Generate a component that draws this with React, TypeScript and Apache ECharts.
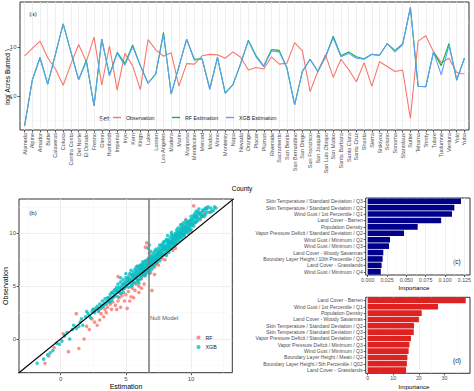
import React, { useEffect, useRef } from "react";
import * as echarts from "echarts";

// ---------- Panel (a): county time-series ----------
const counties = [
  "Alameda", "Alpine", "Amador", "Butte", "Calaveras", "Colusa", "Contra Costa", "Del Norte",
  "El Dorado", "Fresno", "Glenn", "Humboldt", "Imperial", "Inyo", "Kern", "Kings", "Lake",
  "Lassen", "Los Angeles", "Madera", "Marin", "Mariposa", "Mendocino", "Merced", "Modoc",
  "Mono", "Monterey", "Napa", "Nevada", "Orange", "Placer", "Plumas", "Riverside",
  "Sacramento", "San Benito", "San Bernardino", "San Diego", "San Francisco", "San Joaquin",
  "San Luis Obispo", "San Mateo", "Santa Barbara", "Santa Clara", "Santa Cruz", "Shasta",
  "Sierra", "Siskiyou", "Solano", "Sonoma", "Stanislaus", "Sutter", "Tehama", "Trinity",
  "Tulare", "Tuolumne", "Ventura", "Yolo", "Yuba",
];
const observation = [
  8.2, 9.7, 11.2, 7.8, 5.5, 2.2, 6.5, 10.5, 7.0, 12.0, 2.2, 10.2, 1.2, 8.7, 6.2, 1.3, 11.5,
  9.4, 8.1, 8.8, 2.0, 6.6, 6.5, 8.2, 8.5, 8.4, 7.7, 9.0, 7.9, 5.3, 5.8, 5.5, 8.0, 6.5, 6.7,
  10.9, 9.2, 0.9, 5.0, 8.4, 3.8, 7.5, 5.4, 2.9, 6.8, 2.0, 7.0, 6.0, 5.0, 5.3, -4.6, 11.2,
  12.3, 9.0, 6.8, 7.7, 4.8, 4.5,
];
const rfEstimation = [
  -6.1, 3.3, 7.9, 2.4, 8.6, 14.7, 9.0, 3.3, 7.3, -2.0, 11.6, 4.3, 8.9, 6.6, 10.4, 6.2, 2.6,
  4.5, 13.0, 0.4, 6.0, 11.6, 7.5, 7.6, 1.5, 7.9, 0.6, 2.3, 6.6, 11.4, 8.2, 6.1, 9.5, 9.3,
  5.7, -1.8, 5.0, 7.5, 5.0, 8.0, 12.2, 8.2, 9.0, 8.0, 7.6, 8.5, 8.3, 10.7, 9.3, 10.6, 18.1,
  2.0, 1.9, 9.0, 6.2, 10.7, 3.2, 7.7,
];
const xgbEstimation = [
  -6.1, 3.3, 7.7, 2.4, 8.5, 14.7, 9.0, 3.3, 7.1, -2.0, 11.6, 4.1, 8.7, 6.3, 10.1, 6.2, 2.6,
  4.5, 12.6, 0.4, 6.0, 11.6, 7.3, 7.6, 1.3, 7.9, 0.6, 2.3, 6.6, 11.2, 8.0, 6.0, 9.2, 9.0,
  5.7, -1.8, 5.0, 7.5, 5.0, 8.0, 11.9, 8.0, 8.7, 7.7, 7.5, 8.5, 8.3, 10.7, 9.0, 10.5, 18.1,
  2.0, 1.9, 9.0, 4.3, 10.4, 3.4, 7.7,
];
const topYTicks = [0, 10];

// ---------- Panel (b): estimation vs observation ----------
const scatterRF: [number, number][] = [
  [-1.2, -2.3], [-0.9, -1.6], [-0.5, -0.8], [0.2, 0.5], [0.6, -1.2], [1.2, 2.4], [1.4, -0.9],
  [1.8, 0.0], [2.0, 1.2], [2.2, 0.9], [2.4, 1.9], [2.5, 2.8], [2.6, 1.6], [2.8, 1.3], [2.9, 2.7],
  [3.0, 1.8], [3.1, 2.4], [3.2, 3.0], [3.3, 2.1], [3.4, 2.8], [3.5, 2.5], [3.6, 3.0], [3.7, 3.6],
  [3.8, 3.3], [3.9, 2.8], [3.9, 3.9], [4.0, 3.5], [4.1, 4.0], [4.2, 3.2], [4.3, 2.8], [4.4, 3.6],
  [4.5, 3.9], [4.5, 4.4], [4.4, 5.9], [4.6, 3.0], [4.7, 4.1], [4.8, 4.7], [4.9, 3.6], [5.0, 4.2],
  [5.0, 5.4], [5.1, 2.9], [5.2, 4.5], [5.3, 3.6], [5.3, 5.6], [5.4, 4.0], [5.5, 4.8], [5.5, 5.3],
  [5.6, 3.9], [5.6, 6.1], [5.7, 4.6], [5.8, 5.2], [5.8, 5.9], [5.9, 5.6], [6.0, 5.0], [6.0, 4.4],
  [6.0, 6.6], [6.1, 6.4], [6.2, 5.7], [6.2, 4.8], [6.2, 6.0], [6.3, 7.1], [6.3, 6.4], [6.4, 6.0],
  [6.4, 5.2], [6.5, 8.7], [6.5, 6.2], [6.6, 9.1], [6.6, 6.5], [6.7, 7.4], [6.7, 6.8], [6.8, 8.1],
  [6.9, 6.3], [6.9, 7.2], [7.0, 4.6], [7.0, 7.6], [7.1, 7.5], [7.2, 6.8], [7.2, 6.1], [7.3, 7.9],
  [7.3, 7.2], [7.4, 7.1], [7.5, 7.0], [7.5, 8.1], [7.6, 8.4], [7.7, 8.0], [7.8, 7.6], [7.9, 8.5],
  [8.0, 8.6], [8.0, 7.5], [8.1, 8.0], [8.1, 8.7], [8.3, 9.1], [8.3, 8.6], [8.5, 9.1], [8.5, 9.4],
  [8.6, 8.4], [8.7, 9.2], [8.8, 9.5], [8.8, 8.6], [8.9, 9.8], [9.0, 9.2], [9.1, 10.0], [9.1, 9.6],
  [9.3, 10.4], [9.3, 10.0], [9.5, 9.9], [9.5, 10.6], [9.6, 11.3], [9.7, 10.3], [9.8, 10.6],
  [9.9, 11.0], [10.0, 10.2], [10.1, 10.8], [10.2, 12.6], [10.3, 11.0], [10.4, 11.5], [10.5, 11.7],
  [10.6, 12.0], [10.7, 11.3], [10.8, 11.6], [11.0, 11.9], [11.2, 12.4], [11.5, 12.0],
];
const scatterXGB: [number, number][] = [
  [-1.8, -2.3], [-1.3, -1.9], [-1.0, -1.5], [-0.8, -1.3], [-0.6, -1.1], [-0.3, -0.4], [-0.1, -0.5],
  [0.1, -0.2], [0.3, 0.3], [0.5, 0.6], [0.7, 0.0], [0.9, 0.9], [1.0, 1.3], [1.2, 1.0], [1.4, 1.2],
  [1.5, 1.6], [1.6, 1.9], [1.7, 1.3], [1.9, 2.1], [2.0, 2.6],
  [2.1, 2.4], [2.2, 2.2], [2.3, 2.0], [2.4, 2.6], [2.5, 2.8], [2.6, 2.5], [2.7, 2.9], [2.8, 3.1],
  [2.9, 2.6], [3.0, 3.3], [3.0, 2.9], [3.1, 2.9], [3.2, 3.6], [3.2, 3.2], [3.3, 3.1], [3.4, 3.8],
  [3.4, 3.4], [3.5, 3.3], [3.6, 3.9], [3.6, 3.6], [3.7, 3.5], [3.7, 3.9], [3.8, 4.2], [3.8, 3.5],
  [3.9, 3.7], [3.9, 4.4], [4.0, 4.4], [4.0, 3.9],
  [4.1, 4.6], [4.1, 4.2], [4.2, 4.1], [4.2, 4.7], [4.3, 4.9], [4.3, 4.4], [4.3, 4.6], [4.4, 5.2],
  [4.4, 4.0], [4.5, 4.5], [4.5, 4.9], [4.5, 4.7], [4.6, 5.4], [4.6, 4.3], [4.6, 5.8], [4.7, 4.7],
  [4.7, 5.1], [4.7, 4.9], [4.8, 5.6], [4.8, 5.2], [4.8, 4.4], [4.9, 4.8], [4.9, 5.3], [4.9, 5.1],
  [5.0, 5.8], [5.0, 5.0], [5.0, 6.2], [5.1, 5.5], [5.1, 5.2], [5.1, 5.7], [5.2, 4.9], [5.2, 5.9],
  [5.2, 5.4], [5.3, 5.3], [5.3, 5.7], [5.3, 6.2], [5.3, 5.5], [5.4, 6.1], [5.4, 5.0], [5.4, 6.5],
  [5.5, 5.5], [5.5, 6.0], [5.5, 5.1], [5.5, 5.8],
  [5.6, 5.9], [5.6, 6.3], [5.6, 5.4], [5.7, 5.3], [5.7, 6.6], [5.7, 6.0], [5.7, 5.7], [5.8, 5.8],
  [5.8, 6.2], [5.8, 6.8], [5.8, 6.4], [5.9, 6.5], [5.9, 5.5], [5.9, 6.1], [5.9, 6.9], [6.0, 6.0],
  [6.0, 6.8], [6.0, 5.6], [6.0, 5.3], [6.0, 6.2], [6.1, 6.3], [6.1, 5.7], [6.1, 7.0], [6.1, 6.7],
  [6.2, 6.6], [6.2, 7.0], [6.2, 6.3], [6.2, 5.9], [6.2, 6.8], [6.3, 6.1], [6.3, 6.9], [6.3, 6.6],
  [6.3, 7.3], [6.4, 6.4], [6.4, 7.2], [6.4, 6.8], [6.4, 6.1], [6.4, 6.6], [6.5, 6.0], [6.5, 6.7],
  [6.5, 7.4], [6.5, 7.0], [6.6, 7.4], [6.6, 6.3], [6.6, 6.9], [6.6, 6.6], [6.6, 7.1], [6.7, 6.9],
  [6.7, 7.6], [6.7, 8.6], [6.7, 7.2], [6.8, 6.5], [6.8, 7.1], [6.8, 7.7], [6.8, 8.9], [6.8, 6.2],
  [6.8, 7.3], [6.9, 7.8], [6.9, 6.8], [6.9, 7.3], [6.9, 8.3], [6.9, 7.6], [7.0, 7.3], [7.0, 6.6],
  [7.0, 7.0], [7.0, 7.9], [7.0, 7.5],
  [7.1, 7.7], [7.1, 8.1], [7.1, 7.3], [7.1, 6.9], [7.2, 7.0], [7.2, 7.5], [7.2, 8.3], [7.2, 7.8],
  [7.2, 7.6], [7.3, 8.0], [7.3, 7.3], [7.3, 7.6], [7.3, 8.5], [7.4, 8.3], [7.4, 7.6], [7.4, 7.8],
  [7.4, 7.3], [7.4, 8.0], [7.5, 7.9], [7.5, 8.6], [7.5, 8.2], [7.5, 7.5], [7.6, 7.4], [7.6, 8.2],
  [7.6, 7.7], [7.6, 8.9], [7.6, 8.0], [7.7, 8.8], [7.7, 7.8], [7.7, 8.5], [7.7, 8.2], [7.8, 8.4],
  [7.8, 9.0], [7.8, 8.1], [7.8, 7.9], [7.8, 8.7], [7.9, 8.0], [7.9, 8.6], [7.9, 8.9], [7.9, 9.2],
  [8.0, 9.2], [8.0, 8.3], [8.0, 8.0], [8.0, 8.8], [8.0, 8.5], [8.1, 8.8], [8.1, 7.9], [8.1, 9.4],
  [8.1, 8.4], [8.2, 9.4], [8.2, 8.5], [8.2, 8.9], [8.2, 9.8], [8.2, 9.1], [8.3, 9.0], [8.3, 8.2],
  [8.3, 8.7], [8.3, 9.3], [8.4, 9.6], [8.4, 8.8], [8.4, 9.2], [8.4, 8.5], [8.4, 9.0],
  [8.5, 9.2], [8.5, 8.6], [8.5, 9.9], [8.5, 10.1], [8.6, 9.8], [8.6, 9.0], [8.6, 9.4], [8.6, 8.8],
  [8.6, 9.6], [8.7, 9.4], [8.7, 8.9], [8.7, 9.1], [8.7, 9.7], [8.8, 10.0], [8.8, 9.3], [8.8, 9.7],
  [8.8, 9.0], [8.8, 9.9], [8.9, 9.7], [8.9, 9.1], [8.9, 10.3], [8.9, 9.5], [9.0, 10.2], [9.0, 9.5],
  [9.0, 9.8], [9.0, 10.5], [9.0, 10.0], [9.1, 9.9], [9.1, 9.3], [9.1, 9.6], [9.2, 10.5], [9.2, 9.7],
  [9.2, 10.1], [9.2, 10.8], [9.2, 10.3], [9.3, 10.1], [9.3, 9.5], [9.3, 10.8], [9.3, 9.8],
  [9.4, 10.7], [9.4, 9.9], [9.4, 10.3], [9.4, 11.0], [9.4, 10.5], [9.5, 10.3], [9.5, 9.7],
  [9.5, 10.0], [9.6, 10.9], [9.6, 10.1], [9.6, 10.5], [9.6, 11.2], [9.6, 10.7], [9.7, 10.5],
  [9.7, 11.0], [9.7, 10.2], [9.8, 11.1], [9.8, 10.0], [9.8, 10.8], [9.8, 10.4], [9.9, 10.7],
  [9.9, 11.2], [9.9, 10.3], [10.0, 11.3], [10.0, 10.4], [10.0, 10.8], [10.0, 11.6], [10.0, 11.0],
  [10.1, 10.9], [10.1, 11.3], [10.2, 11.5], [10.2, 11.2], [10.2, 10.7], [10.2, 11.7], [10.3, 11.0],
  [10.3, 11.9], [10.3, 11.6], [10.4, 11.7], [10.4, 11.4], [10.4, 12.1], [10.4, 11.1], [10.5, 11.2],
  [10.5, 12.0], [10.5, 11.5], [10.6, 11.9], [10.6, 12.3], [10.7, 11.4], [10.7, 11.8], [10.8, 12.0],
  [10.8, 11.7], [10.9, 11.6], [10.9, 12.2], [11.0, 12.2], [11.0, 11.6], [11.1, 11.8], [11.1, 12.4],
  [11.2, 12.3], [11.2, 12.0], [11.3, 12.5], [11.4, 12.0], [11.5, 12.4], [11.6, 12.1], [11.7, 12.2],
  [11.8, 12.5], [11.9, 12.4],
];
const identityLine = [-4, 14];
const nullModelEstimate = 6.73;
const nullModelLabelObservation = 2.0;
const scatterTicks = [0, 5, 10];

// ---------- Panel (c): XGB importance ----------
const xgbFeatures = [
  "Skin Temperature / Standard Deviation / Q3",
  "Skin Temperature / Standard Deviation / Q2",
  "Wind Gust / 1st Percentile / Q1",
  "Land Cover - Barren",
  "Population Density",
  "Vapor Pressure Deficit / Standard Deviation / Q2",
  "Wind Gust / Minimum / Q2",
  "Wind Gust / Minimum / Q3",
  "Land Cover - Woody Savannas",
  "Boundary Layer Height / 10th Precentile / Q3",
  "Land Cover - Grasslands",
  "Wind Gust / Minimum / Q4",
];
const xgbImportance = [0.1206, 0.112, 0.109, 0.095, 0.0646, 0.047, 0.0288, 0.0276, 0.0202, 0.0193, 0.018, 0.0169];
const xgbTicks = [0, 0.025, 0.05, 0.075, 0.1, 0.125];

// ---------- Panel (d): RF importance ----------
const rfFeatures = [
  "Land Cover - Barren",
  "Wind Gust / 1st Percentile / Q1",
  "Population Density",
  "Land Cover - Woody Savannas",
  "Skin Temperature / Standard Deviation / Q2",
  "Skin Temperature / Standard Deviation / Q3",
  "Vapor Pressure Deficit / Standard Deviation / Q2",
  "Vapor Pressure Deficit / Minimum / Q3",
  "Wind Gust / Minimum / Q3",
  "Boundary Layer Height / Mean / Q2",
  "Boundary Layer Height / 5th Percentile / Q02",
  "Land Cover - Grasslands",
];
const rfImportance = [38.3, 27.5, 21.1, 20.0, 18.1, 18.0, 16.9, 16.3, 16.0, 15.5, 15.3, 15.0];
const rfTicks = [0, 10, 20, 30];

const FONT = "'Liberation Sans', Arial, Helvetica, sans-serif";
const AX = "#333333";
const TXT = "#4D4D4D";
const GRIDC = "#EBEBEB";
const MINORC = "#F4F4F4";

const hiddenAxis = (g: number) => ({ gridIndex: g, type: "value", show: false, min: 0, max: 1 });
const frameGrid = (left: number, top: number, width: number, height: number) => ({
  left, top, width, height, show: true, borderColor: AX, borderWidth: 1, backgroundColor: "transparent",
});
const dataGrid = (left: number, top: number, width: number, height: number) => ({ left, top, width, height });
const noLine = { show: false, onZero: false };
const tick = (len: number, custom?: number[]) => ({
  show: true, length: len, lineStyle: { color: AX, width: 0.8 }, ...(custom ? { customValues: custom } : {}),
});
const label = (size: number, margin: number, custom: number[], fmt: (v: number) => string) => ({
  customValues: custom, fontSize: size, color: TXT, margin, fontFamily: FONT,
  formatter: (v: number) => (custom.some((c) => Math.abs(c - v) < 1e-9) ? fmt(v) : ""),
});
const major = { show: true, lineStyle: { color: GRIDC, width: 0.8 } };
const minor = { show: true, lineStyle: { color: MINORC, width: 0.5 } };
const txt = (text: string, x: number, y: number, size: number, color = "#1A1A1A", rotation = 0) => ({
  type: "text", x, y, rotation,
  style: { text, fill: color, align: "center", verticalAlign: "middle", fontSize: size, fontFamily: FONT },
});

function buildOption() {
  const xy = (arr: number[]) => arr.map((v, i) => [i, v]);
  return {
    animation: false,
    textStyle: { fontFamily: FONT },
    grid: [
      frameGrid(20, 2, 449, 128), // 0 top frame
      dataGrid(24.6, 2, 439.8, 128), // 1 top data
      frameGrid(19, 199, 213.3, 173.7), // 2 scatter
      frameGrid(365.7, 198, 104.3, 77), // 3 c frame
      dataGrid(367.7, 198, 101.3, 77), // 4 c data
      frameGrid(365.7, 297.3, 104.3, 76), // 5 d frame
      dataGrid(367.7, 297.3, 102.1, 76), // 6 d data
    ],
    xAxis: [
      hiddenAxis(0),
      {
        gridIndex: 1, type: "value", min: 0, max: counties.length - 1, interval: 1,
        axisLine: noLine, axisTick: tick(2.5),
        axisLabel: {
          rotate: 90, fontSize: 5.5, color: TXT, margin: 3, fontFamily: FONT,
          formatter: (v: number) => counties[Math.round(v)] ?? "",
        },
        splitLine: major,
      },
      {
        gridIndex: 2, type: "value", min: -3.19, max: 13.16, splitNumber: 3,
        axisLine: noLine, axisTick: tick(2.5, scatterTicks),
        axisLabel: label(6, 3, scatterTicks, (v) => String(v)),
        splitLine: major, minorTick: { show: false, splitNumber: 2 }, minorSplitLine: minor,
      },
      hiddenAxis(3),
      {
        gridIndex: 4, type: "value", min: 0, max: 0.125, interval: 0.025,
        axisLine: noLine, axisTick: tick(2),
        axisLabel: label(5.3, 2.5, xgbTicks, (v) => v.toFixed(3)),
        splitLine: major, minorTick: { show: false, splitNumber: 2 }, minorSplitLine: minor,
      },
      hiddenAxis(5),
      {
        gridIndex: 6, type: "value", min: 0, max: 39.9, interval: 10,
        axisLine: noLine, axisTick: tick(2, rfTicks),
        axisLabel: label(5.3, 2.5, rfTicks, (v) => String(v)),
        splitLine: { ...major, showMaxLine: false }, minorTick: { show: false, splitNumber: 2 }, minorSplitLine: minor,
      },
    ],
    yAxis: [
      {
        gridIndex: 0, type: "value", min: -6.94, max: 19.18, splitNumber: 3,
        axisLine: noLine, axisTick: tick(2.5, topYTicks),
        axisLabel: label(6, 3.5, topYTicks, (v) => String(v)),
        splitLine: { ...major, showMinLine: false, showMaxLine: false },
        minorTick: { show: false, splitNumber: 2 }, minorSplitLine: minor,
      },
      { gridIndex: 1, type: "value", show: false, min: -6.94, max: 19.18, axisLine: noLine },
      {
        gridIndex: 2, type: "value", min: -3.19, max: 13.25, splitNumber: 3,
        axisLine: noLine, axisTick: tick(2.5, scatterTicks),
        axisLabel: label(6, 3, scatterTicks, (v) => String(v)),
        splitLine: major, minorTick: { show: false, splitNumber: 2 }, minorSplitLine: minor,
      },
      hiddenAxis(3),
      {
        gridIndex: 4, type: "category", inverse: true, data: xgbFeatures, offset: 2,
        axisLine: noLine,
        axisTick: { ...tick(2), alignWithLabel: true },
        axisLabel: { interval: 0, fontSize: 5, color: TXT, margin: 3, fontFamily: FONT },
        splitLine: { show: false },
      },
      hiddenAxis(5),
      {
        gridIndex: 6, type: "category", inverse: true, data: rfFeatures, offset: 2,
        axisLine: noLine,
        axisTick: { ...tick(2), alignWithLabel: true },
        axisLabel: { interval: 0, fontSize: 5, color: TXT, margin: 3, fontFamily: FONT },
        splitLine: { show: false },
      },
    ],
    legend: [
      {
        data: ["Observation"], left: 113, top: 115, padding: 0, icon: "rect", itemWidth: 8, itemHeight: 1.4,
        selectedMode: false, textStyle: { fontSize: 5.3, color: "#1A1A1A", fontFamily: FONT },
      },
      {
        data: ["RF Estimation"], left: 172, top: 115, padding: 0, icon: "rect", itemWidth: 8, itemHeight: 1.4,
        selectedMode: false, textStyle: { fontSize: 5.3, color: "#1A1A1A", fontFamily: FONT },
      },
      {
        data: ["XGB Estimation"], left: 226, top: 115, padding: 0, icon: "rect", itemWidth: 8, itemHeight: 1.4,
        selectedMode: false, textStyle: { fontSize: 5.3, color: "#1A1A1A", fontFamily: FONT },
      },
      {
        data: ["RF", "XGB"], orient: "vertical", left: 196.5, top: 335, padding: 0, icon: "circle",
        itemWidth: 4, itemHeight: 4, itemGap: 4.5, selectedMode: false,
        textStyle: { fontSize: 5.3, color: "#1A1A1A", fontFamily: FONT },
      },
    ],
    series: [
      {
        name: "Observation", type: "line", xAxisIndex: 1, yAxisIndex: 1, data: xy(observation),
        showSymbol: false, symbol: "none", color: "#F8766D", lineStyle: { width: 1.1, color: "#F8766D" },
      },
      {
        name: "RF Estimation", type: "line", xAxisIndex: 1, yAxisIndex: 1, data: xy(rfEstimation),
        showSymbol: false, symbol: "none", color: "#00BA38", lineStyle: { width: 1.1, color: "#00BA38" },
      },
      {
        name: "XGB Estimation", type: "line", xAxisIndex: 1, yAxisIndex: 1, data: xy(xgbEstimation),
        showSymbol: false, symbol: "none", color: "#619CFF", lineStyle: { width: 1.1, color: "#619CFF" },
      },
      {
        name: "RF", type: "scatter", xAxisIndex: 2, yAxisIndex: 2, data: scatterRF,
        symbolSize: 3.6, color: "#F8766D", itemStyle: { color: "#F8766D" },
      },
      {
        name: "XGB", type: "scatter", xAxisIndex: 2, yAxisIndex: 2, data: scatterXGB,
        symbolSize: 3.6, color: "#00BFC4", itemStyle: { color: "#00BFC4" },
        markLine: {
          silent: true, symbol: "none", label: { show: false },
          lineStyle: { color: "#7F7F7F", width: 1.6, type: "solid" },
          data: [{ xAxis: nullModelEstimate }],
        },
      },
      {
        name: "identity", type: "line", xAxisIndex: 2, yAxisIndex: 2,
        data: identityLine.map((v) => [v, v]), clip: true, symbol: "none", silent: true,
        lineStyle: { color: "#000000", width: 1.2 }, z: 5,
      },
      {
        name: "nullModelLabel", type: "scatter", xAxisIndex: 2, yAxisIndex: 2,
        data: [[nullModelEstimate, nullModelLabelObservation]], symbolSize: 0, silent: true,
        label: { show: true, position: "right", distance: 1.5, formatter: "Null Model", fontSize: 6, color: "#1A1A1A", fontFamily: FONT },
      },
      {
        name: "XGB importance", type: "bar", xAxisIndex: 4, yAxisIndex: 4, data: xgbImportance,
        barWidth: "88%", itemStyle: { color: "#00008B" }, silent: true,
      },
      {
        name: "RF importance", type: "bar", xAxisIndex: 6, yAxisIndex: 6, data: rfImportance,
        barWidth: "88%", itemStyle: { color: "#DE2121" }, silent: true,
      },
    ],
    graphic: [
      txt("(a)", 33, 14, 6),
      txt("Set:", 105, 118, 6.5),
      txt("log( Acres Burned )", 7, 77, 6.5, "#000", Math.PI / 2),
      txt("County", 242, 188, 6.5, "#000"),
      txt("(b)", 33, 213, 6),
      txt("Observation", 5, 286, 7, "#000", Math.PI / 2),
      txt("Estimation", 126, 386, 7, "#000"),
      txt("Importance", 414, 287, 6.2, "#000"),
      txt("Importance", 414, 386.5, 6.2, "#000"),
      txt("(c)", 457, 261, 6.5),
      txt("(d)", 457, 360, 6.5),
    ],
  };
}

export default function App() {
  const ref = useRef<HTMLDivElement>(null);
  useEffect(() => {
    if (!ref.current) return;
    const chart = echarts.init(ref.current, null, { renderer: "svg" });
    chart.setOption(buildOption() as any);
    return () => chart.dispose();
  }, []);
  return (
    <div
      ref={ref}
      style={{ position: "fixed", left: 0, top: 0, width: 474, height: 391, background: "#ffffff" }}
    />
  );
}
